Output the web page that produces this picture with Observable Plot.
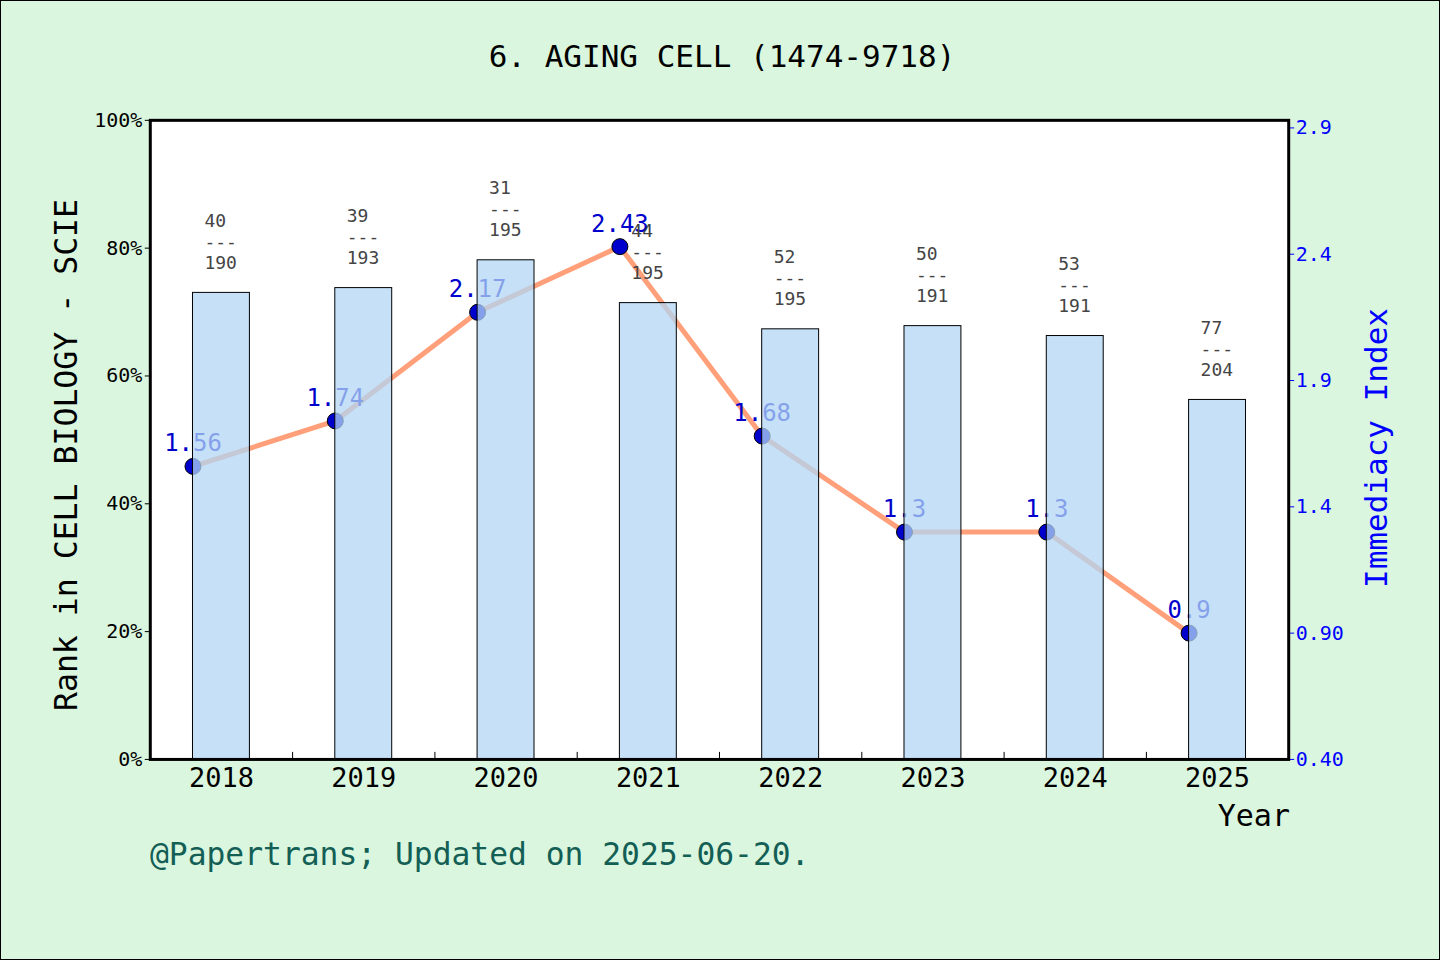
<!DOCTYPE html>
<html>
<head>
<meta charset="utf-8">
<script src="https://cdn.jsdelivr.net/npm/d3@7"></script>
<script src="https://cdn.jsdelivr.net/npm/@observablehq/plot@0.6"></script>
<style>
  html, body { margin: 0; padding: 0; background: #daf6de; }
  #wrap { position: relative; width: 1440px; height: 960px; background: #daf6de; box-sizing: border-box; border: 1px solid #000; overflow: hidden; }
  #wrap svg { position: absolute; left: -1px; top: -1px; }
  .mono { font-family: "DejaVu Sans Mono", monospace; position: absolute; white-space: nowrap; }
  #title { left: 0; width: 1442px; text-align: center; top: 37px; font-size: 31px; color: #000; line-height: 1.164; }
  #caption { left: 149px; top: 835px; font-size: 31.3px; color: #135e55; line-height: 1.164; }
  #ylab { left: 66px; top: 454px; font-size: 31.5px; color: #000; line-height: 1; transform: translate(-50%, -50%) rotate(-90deg); }
  #y2lab { left: 1375px; top: 447px; font-size: 31px; color: #0000ff; line-height: 1; transform: translate(-50%, -50%) rotate(-90deg); }
  #xlab { right: 149px; top: 798px; font-size: 30px; color: #000; line-height: 1.164; }
</style>
</head>
<body>
<div id="wrap">
  <div id="title" class="mono">6. AGING CELL (1474-9718)</div>
  <div id="ylab" class="mono">Rank in CELL BIOLOGY - SCIE</div>
  <div id="y2lab" class="mono">Immediacy Index</div>
  <div id="xlab" class="mono">Year</div>
  <div id="caption" class="mono">@Papertrans; Updated on 2025-06-20.</div>
</div>
<script>
// ---- data ----
const years = ["2018", "2019", "2020", "2021", "2022", "2023", "2024", "2025"];
const rankPct = [73.0, 73.75, 78.1, 71.4, 67.3, 67.8, 66.25, 56.25];   // bar height, % (left axis)
const rankPos = [40, 39, 31, 44, 52, 50, 53, 77];
const rankTotal = [190, 193, 195, 195, 195, 191, 191, 204];
const immediacy = [1.56, 1.74, 2.17, 2.43, 1.68, 1.3, 1.3, 0.9];      // right axis
const leftTicks = [0, 20, 40, 60, 80, 100];
const rightTicks = [0.4, 0.9, 1.4, 1.9, 2.4, 2.9];
const rightTickLabels = ["0.40", "0.90", "1.4", "1.9", "2.4", "2.9"];
const rightMin = 0.4, rightMax = 2.93;

// map right-axis values into left-axis (percent) space
const toPct = v => (v - rightMin) / (rightMax - rightMin) * 100;

const rows = years.map((y, i) => ({
  year: y,
  pct: rankPct[i],
  pos: rankPos[i],
  total: rankTotal[i],
  ii: immediacy[i],
  iiPct: toPct(immediacy[i])
}));

const mono = "DejaVu Sans Mono, monospace";
const barShift = -28.5; // line/points sit at the left edge of each bar

const chart = Plot.plot({
  width: 1440,
  height: 960,
  marginLeft: 150,
  marginRight: 150,
  marginTop: 120,
  marginBottom: 200,
  style: { background: "transparent", fontFamily: mono, overflow: "visible" },
  x: { type: "band", domain: years, paddingInner: 0.6, paddingOuter: 0.3, round: false, axis: null },
  y: { domain: [0, 100], axis: null },
  marks: [
    Plot.frame({ fill: "white" }),
    // left axis
    Plot.axisY({ anchor: "left", ticks: leftTicks, tickFormat: d => d + "%", tickSize: 5, tickPadding: 3,
                 fontSize: 20, fontFamily: mono, label: null, color: "black" }),
    // right axis
    Plot.axisY({ anchor: "right", ticks: rightTicks.map(toPct),
                 tickFormat: (d, i) => rightTickLabels[i], tickSize: 5, tickPadding: 2,
                 fontSize: 20, fontFamily: mono, label: null, color: "#0000ff" }),
    // bottom axis labels
    Plot.axisX({ anchor: "bottom", tickSize: 0, tickPadding: 8, fontSize: 27, fontFamily: mono, label: null }),
    // bottom inner ticks between bands
    Plot.ruleX(years.slice(1), { x: d => d, y1: 0, y2: 1.1, dx: -71.25, stroke: "black", strokeWidth: 1 }),
    // immediacy line
    Plot.line(rows, { x: "year", y: "iiPct", stroke: "#ffa07a", strokeWidth: 5, dx: barShift }),
    Plot.dot(rows, { x: "year", y: "iiPct", r: 8, fill: "#0000cc", stroke: "black", strokeWidth: 1, dx: barShift }),
    Plot.text(rows, { x: "year", y: "iiPct", text: d => String(d.ii), dx: barShift, dy: -15, lineAnchor: "bottom",
                      fill: "#0000cc", fontSize: 24, fontFamily: mono }),
    // rank bars (semi-transparent, over the line)
    Plot.barY(rows, { x: "year", y: "pct", fill: "rgb(178,214,244)", fillOpacity: 0.75, stroke: "black", strokeWidth: 1 }),
    // rank labels
    Plot.text(rows, { x: "year", y: "pct", text: d => `${d.pos}\n---\n${d.total}`, textAnchor: "start", dx: -17,
                      dy: -24, lineAnchor: "bottom", lineHeight: 1.17, fontSize: 18,
                      fontFamily: mono, fill: "#444" }),
    Plot.frame({ stroke: "black", strokeWidth: 3 })
  ]
});
document.getElementById("wrap").appendChild(chart);
</script>
</body>
</html>
